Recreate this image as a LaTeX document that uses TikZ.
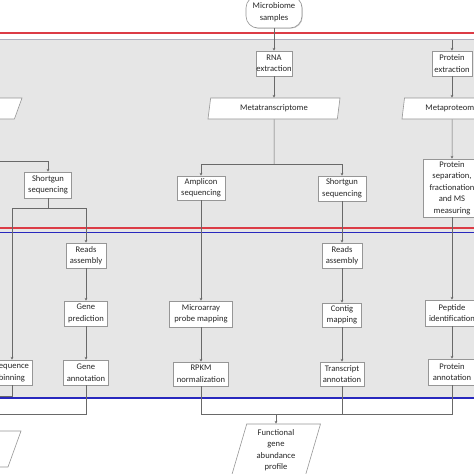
\documentclass[tikz,border=0pt]{standalone}
\usepackage{fontspec}
\setmainfont{Carlito}
\usetikzlibrary{shapes.geometric,arrows.meta,shadows}
\definecolor{panel}{RGB}{230,230,230}
\definecolor{boxc}{RGB}{150,150,150}
\definecolor{linec}{RGB}{105,105,105}
\definecolor{txt}{RGB}{40,40,40}
\definecolor{redl}{RGB}{220,60,70}
\definecolor{bluel}{RGB}{40,40,190}
\definecolor{panelline}{RGB}{175,175,190}
\newcommand\fsz{\fontsize{8.6}{11.5}\selectfont}
\begin{document}
\begin{tikzpicture}[x=1pt,y=-1pt,
  box/.style={draw=boxc, line width=0.6pt, fill=white, align=center, inner sep=0pt,
    font=\fsz, text=txt,
    drop shadow={shadow xshift=0.7pt,shadow yshift=-0.7pt,fill=black!22,opacity=1}},
  para/.style={trapezium, trapezium left angle=70, trapezium right angle=110,
    trapezium stretches body, draw=boxc, line width=0.6pt, fill=white, align=center,
    inner sep=0pt, font=\fsz, text=txt},
  paraline/.style={draw=boxc, line width=0.6pt, fill=white},
  ln/.style={draw=linec, line width=0.5pt},
  arr/.style={ln, -{Stealth[length=2.8pt,width=2.6pt]}}]
\useasboundingbox (0,0) rectangle (474,474);
\clip (0,0) rectangle (474,474);
% panels and bands
\fill[panel] (0,39) rectangle (474,397);
\draw[panelline, line width=0.8pt] (0,39) -- (474,39);
\draw[redl, line width=1.8pt] (0,33) -- (474,33);
\draw[redl, line width=1.8pt] (0,228) -- (474,228);
\draw[bluel, line width=1.4pt] (0,232.5) -- (474,232.5);
\draw[bluel, line width=1.4pt] (0,398) -- (474,398);

% off-canvas output shapes on the left edge
\draw[paraline] (-39,98) -- (22,98) -- (14.4,119) -- (-46.6,119) -- cycle;
\coordinate (metaG) at (-20,119);
\draw[paraline] (-60,431) -- (21,431) -- (8,467) -- (-73,467) -- cycle;

% upper nodes
\node[box, rounded corners=12pt, minimum width=56pt, minimum height=32pt] (micro) at (274,12) {Microbiome\\samples};
\node[box, minimum width=36pt, minimum height=25pt] (rna) at (274,63.5) {RNA\\extraction};
\node[box, minimum width=40pt, minimum height=25pt] (prot) at (452,63.5) {Protein\\extraction};
\node[para, minimum width=132pt, minimum height=21pt] (metaT) at (274,108.5) {Metatranscriptome};
\node[para, minimum width=100pt, minimum height=21pt] (metaP) at (452,108.5) {Metaproteome};
\node[box, minimum width=47pt, minimum height=26pt] (shotL) at (48,185) {Shortgun\\sequencing};
\node[box, minimum width=48pt, minimum height=24pt] (amp) at (201,188) {Amplicon\\sequencing};
\node[box, minimum width=48pt, minimum height=25pt] (shotR) at (342,188.5) {Shortgun\\sequencing};
\node[box, minimum width=58pt, minimum height=58pt] (psep) at (452,188) {Protein\\separation,\\fractionation\\and MS\\measuring};

% lower nodes
\node[box, minimum width=40pt, minimum height=25pt] (readsL) at (86,255.5) {Reads\\assembly};
\node[box, minimum width=43pt, minimum height=25pt] (geneP) at (86,313.5) {Gene\\prediction};
\node[box, minimum width=45pt, minimum height=25pt] (geneA) at (86,372.5) {Gene\\annotation};
\node[box, minimum width=40pt, minimum height=25pt] (seqbin) at (12,372.5) {Sequence\\binning};
\node[box, minimum width=63pt, minimum height=26pt] (mpm) at (201,314) {Microarray\\probe mapping};
\node[box, minimum width=55pt, minimum height=24pt] (rpkm) at (201,374) {RPKM\\normalization};
\node[box, minimum width=40pt, minimum height=25pt] (readsR) at (342,255.5) {Reads\\assembly};
\node[box, minimum width=39pt, minimum height=24pt] (contig) at (342,315) {Contig\\mapping};
\node[box, minimum width=44pt, minimum height=24pt] (trans) at (342,374) {Transcript\\annotation};
\node[box, minimum width=54pt, minimum height=26pt] (pept) at (452,313) {Peptide\\identification};
\node[box, minimum width=48pt, minimum height=26pt] (protA) at (452,372) {Protein\\annotation};
\node[para, minimum width=89pt, minimum height=52pt] (func) at (276,450) {Functional\\gene\\abundance\\profile};

% connectors upper
\coordinate (ptop) at (452,40);
\coordinate (sT) at (274,164);
\coordinate (gL) at (48,161);
\coordinate (sL) at (48,208);
\draw[arr] (micro) -- (rna);
\draw[arr] (ptop) -- (prot);
\draw[arr] (rna) -- (metaT);
\draw[arr] (prot) -- (metaP);
\draw[ln] (metaT) -- (sT);
\draw[arr] (sT) -| (amp);
\draw[arr] (sT) -| (shotR);
\draw[arr] (metaP) -- (psep);
\draw[arr] (metaG) |- (gL) -- (shotL);
\draw[ln] (shotL) -- (sL);
\draw[arr] (sL) -| (seqbin);
\draw[arr] (sL) -| (readsL);
\draw[arr] (amp) -- (mpm);
\draw[arr] (shotR) -- (readsR);
\draw[arr] (psep) -- (pept);

% connectors lower
\draw[arr] (readsL) -- (geneP);
\draw[arr] (geneP) -- (geneA);
\draw[arr] (mpm) -- (rpkm);
\draw[arr] (readsR) -- (contig);
\draw[arr] (contig) -- (trans);
\draw[arr] (pept) -- (protA);
\coordinate (bL) at (-10,396);
\coordinate (jn) at (276,414);
\coordinate (jL) at (-10,414);
\draw[ln] (seqbin) |- (bL);
\draw[ln] (geneA) |- (jL);
\draw[ln] (rpkm) |- (jn);
\draw[ln] (trans) |- (jn);
\draw[ln] (protA) |- (jn);
\draw[arr] (jn) -- (func);
\end{tikzpicture}
\end{document}
